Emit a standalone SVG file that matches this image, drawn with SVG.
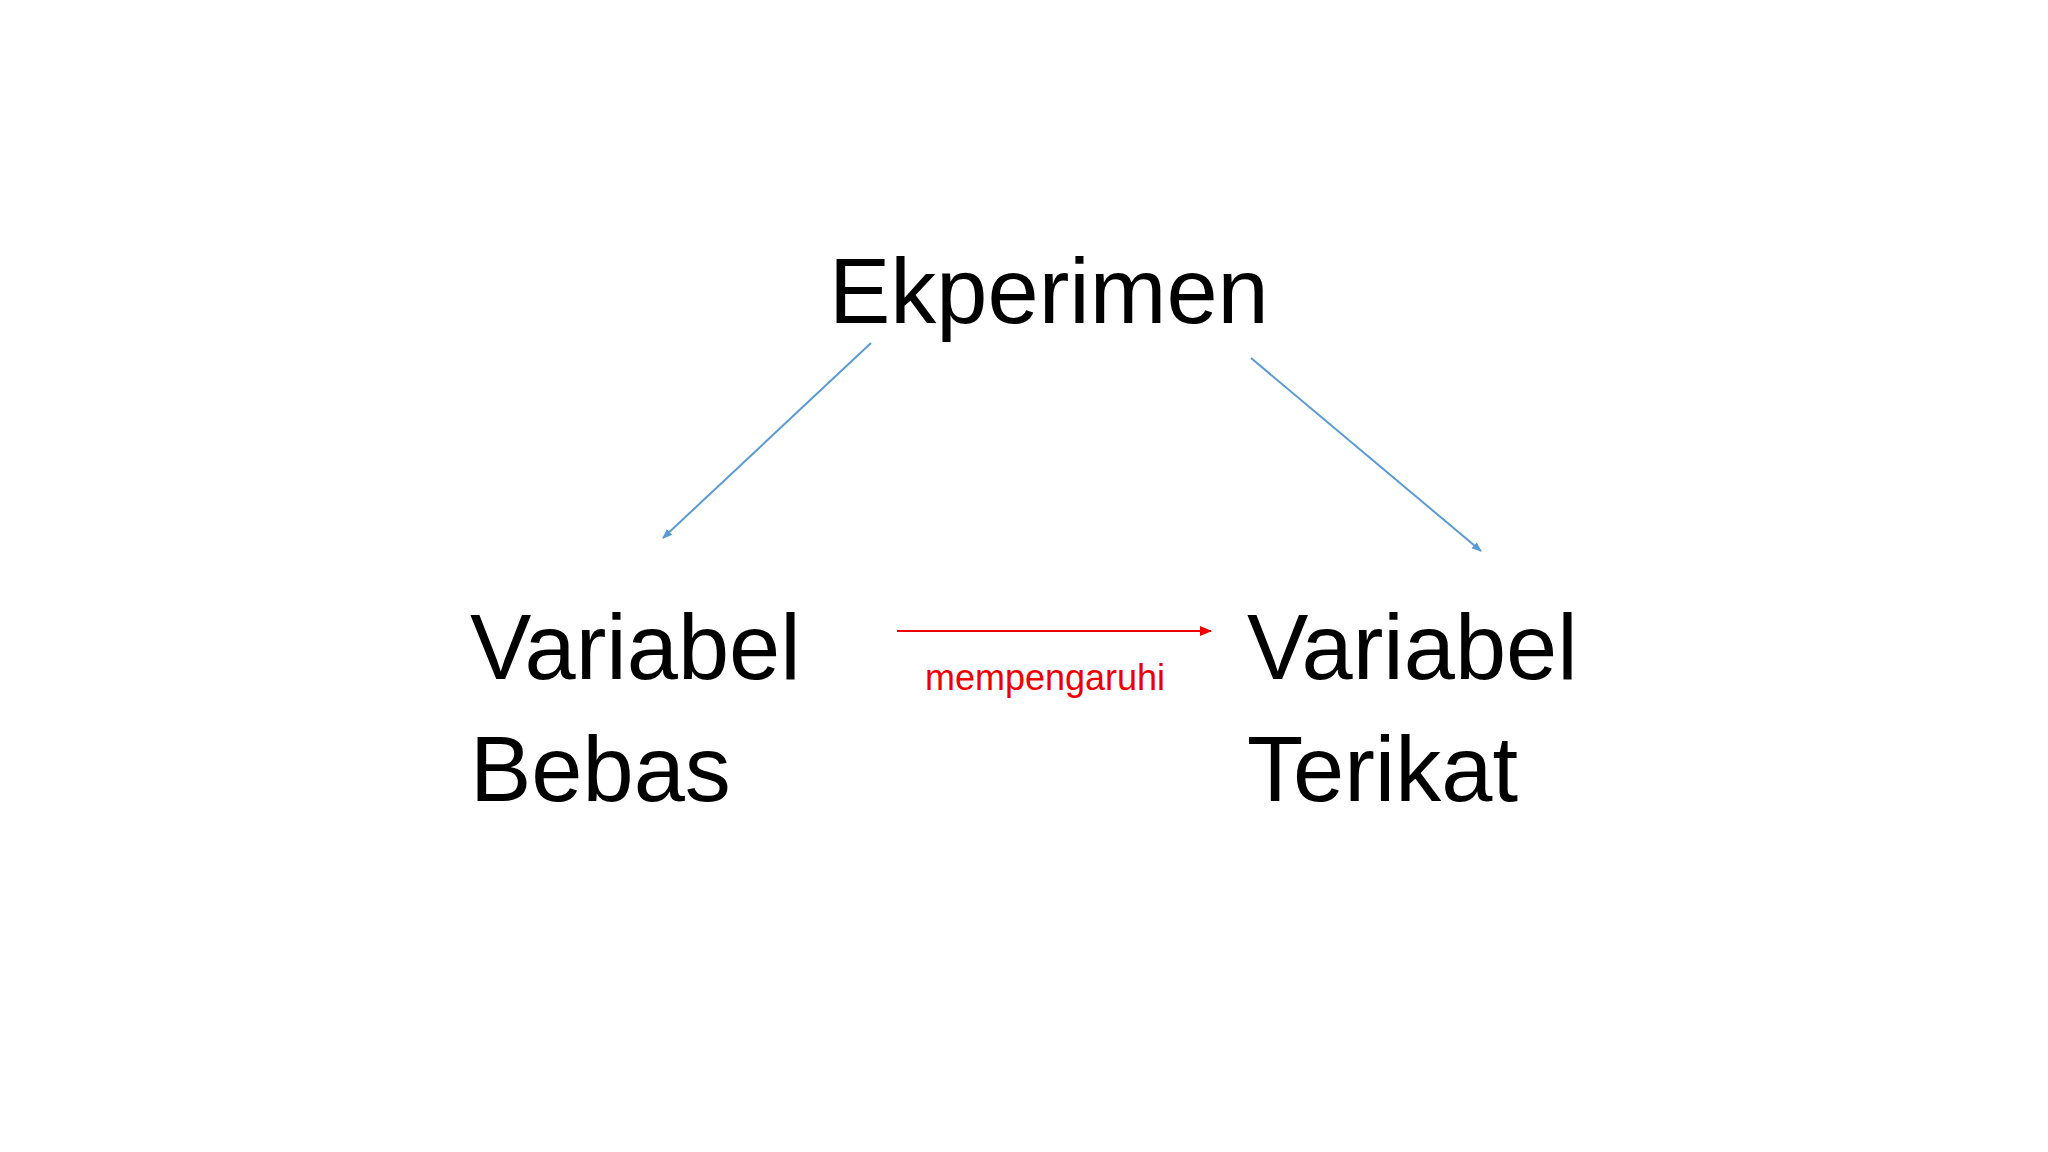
<svg xmlns="http://www.w3.org/2000/svg" width="2048" height="1152" viewBox="0 0 2048 1152">
<style>
.t{font-family:"Liberation Sans","Open Sans",sans-serif;font-size:92px;fill:#000}
.b{stroke:#5b9bd5;stroke-width:2;fill:none}
</style>
<defs>
<marker id="ab" markerWidth="10" markerHeight="8" refX="9" refY="4" orient="auto" markerUnits="userSpaceOnUse"><path d="M0,0L10,4L0,8z" fill="#5b9bd5"/></marker>
<marker id="ar" markerWidth="12" markerHeight="10" refX="11" refY="5" orient="auto" markerUnits="userSpaceOnUse"><path d="M0,0L12,5L0,10z" fill="#e00"/></marker>
</defs>
<rect width="2048" height="1152" fill="#fff"/>
<g id="ekperimen"><text class="t" x="829" y="323">Ekperimen</text></g>
<g id="bebas"><text class="t" x="470" y="679">Variabel</text><text class="t" x="470" y="801">Bebas</text></g>
<g id="terikat"><text class="t" x="1247" y="679">Variabel</text><text class="t" x="1247" y="801">Terikat</text></g>
<g id="connectors">
<line class="b" x1="871" y1="343" x2="663" y2="538" marker-end="url(#ab)"/>
<line class="b" x1="1251" y1="358" x2="1481" y2="551" marker-end="url(#ab)"/>
<line x1="897" y1="631" x2="1211" y2="631" stroke="#e00" stroke-width="2" marker-end="url(#ar)"/>
<text x="1045" y="690" text-anchor="middle" font-family="Liberation Sans,sans-serif" font-size="36" fill="#e00">mempengaruhi</text>
</g>
</svg>
